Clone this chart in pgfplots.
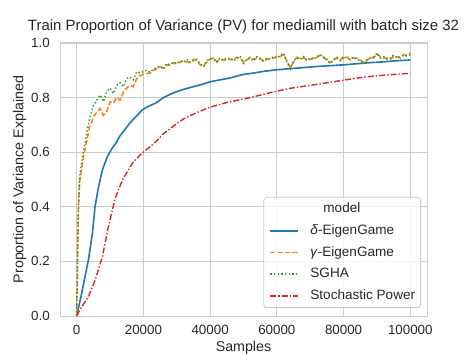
\documentclass[border=0pt]{standalone}
\usepackage{pgfplots}
\pgfplotsset{compat=1.18}
\usepackage{pgfplotstable}
\usepackage{fontspec}
\setmainfont{Liberation Sans}
\definecolor{c1}{HTML}{1F77B4}
\definecolor{c2}{HTML}{FF7F0E}
\definecolor{c3}{HTML}{2CA02C}
\definecolor{c4}{HTML}{D62728}
\definecolor{gridc}{HTML}{CCCCCC}
\definecolor{txt}{HTML}{262626}

\pgfplotstableread{
x y
0 0
1.5 0.083
2.7 0.156
3.5 0.205
4.7 0.30
5.5 0.40
6.5 0.47
7.7 0.535
9.2 0.584
10.5 0.612
11.7 0.632
13 0.66
14.7 0.687
16 0.708
17.7 0.73
19.7 0.755
21.5 0.768
23.7 0.78
26 0.80
28 0.812
30 0.822
32 0.83
35 0.84
38 0.85
40 0.858
43 0.865
46 0.872
50 0.885
53 0.89
56 0.896
60 0.902
64 0.906
68 0.91
72 0.914
76 0.917
80 0.92
84 0.924
88 0.928
92 0.931
96 0.935
100 0.938
}\tabdel

\pgfplotstableread{
x y
0 0
0.25 0.20
0.5 0.38
0.75 0.46
1 0.50
1.5 0.54
2 0.58
2.5 0.61
3 0.64
3.5 0.67
4 0.70
4.5 0.71
5 0.73
6 0.745
7 0.76
8 0.735
9 0.75
10 0.785
11 0.78
12 0.80
13 0.79
14 0.82
15 0.835
16 0.845
17 0.84
18 0.87
19 0.88
20 0.885
21 0.888
22 0.89
23 0.90
24 0.905
25 0.912
26 0.908
27 0.92
28 0.918
29 0.928
30 0.922
31 0.93
32 0.935
33 0.93
34 0.932
35 0.94
36 0.935
37 0.92
38 0.915
39 0.93
40 0.94
41 0.945
42 0.932
43 0.94
44 0.938
45 0.945
46 0.94
47 0.938
48 0.948
49 0.945
50 0.93
51 0.938
52 0.948
53 0.94
54 0.945
55 0.945
56 0.932
57 0.94
58 0.945
59 0.945
60 0.95
61 0.95
62 0.958
63 0.935
64 0.91
65 0.93
66 0.948
67 0.945
68 0.945
69 0.94
70 0.94
71 0.945
72 0.948
73 0.955
74 0.95
75 0.935
76 0.928
77 0.935
78 0.948
79 0.94
80 0.945
81 0.95
82 0.938
83 0.945
84 0.945
85 0.938
86 0.928
87 0.935
88 0.948
89 0.945
90 0.96
91 0.95
92 0.945
93 0.945
94 0.94
95 0.952
96 0.95
97 0.945
98 0.958
99 0.955
100 0.962
}\tabgam

\pgfplotstableread{
x y
0 0
0.25 0.22
0.5 0.40
0.75 0.48
1 0.52
1.5 0.56
2 0.60
2.5 0.63
3 0.67
3.5 0.70
4 0.73
4.5 0.75
5 0.77
6 0.79
7 0.81
8 0.785
9 0.82
10 0.835
11 0.815
12 0.845
13 0.855
14 0.84
15 0.87
16 0.875
17 0.865
18 0.895
19 0.89
20 0.895
21 0.90
22 0.893
23 0.905
24 0.91
25 0.915
26 0.905
27 0.925
28 0.92
29 0.93
30 0.925
31 0.935
32 0.93
33 0.94
34 0.928
35 0.935
36 0.94
37 0.925
38 0.913
39 0.935
40 0.944
41 0.94
42 0.93
43 0.945
44 0.935
45 0.94
46 0.945
47 0.935
48 0.942
49 0.952
50 0.925
51 0.94
52 0.945
53 0.935
54 0.95
55 0.94
56 0.935
57 0.945
58 0.94
59 0.95
60 0.945
61 0.955
62 0.962
63 0.93
64 0.905
65 0.935
66 0.945
67 0.94
68 0.95
69 0.935
70 0.945
71 0.94
72 0.95
73 0.958
74 0.945
75 0.94
76 0.925
77 0.94
78 0.945
79 0.935
80 0.95
81 0.945
82 0.94
83 0.948
84 0.94
85 0.935
86 0.925
87 0.94
88 0.945
89 0.95
90 0.963
91 0.945
92 0.95
93 0.94
94 0.945
95 0.955
96 0.945
97 0.95
98 0.955
99 0.952
100 0.958
}\tabsgha

\pgfplotstableread{
x y
0 0
1.5 0.034
3.5 0.07
5.5 0.13
7.7 0.217
9.5 0.327
10.7 0.388
11.7 0.437
13.7 0.498
16.7 0.56
19.5 0.596
21.5 0.615
23.7 0.638
26 0.668
29.5 0.70
32 0.722
36 0.745
40 0.765
45 0.782
52 0.80
58 0.818
64 0.834
70 0.845
76 0.856
80 0.864
85 0.873
90 0.88
95 0.885
100 0.889
}\tabsp

\begin{document}
\begin{tikzpicture}
\path[use as bounding box] (0,0) rectangle (474bp,355bp);
\begin{axis}[
  at={(60bp,39bp)}, anchor=south west,
  scale only axis, width=367bp, height=273bp,
  xmin=-5000, xmax=105000, ymin=0, ymax=1,
  xtick={0,20000,40000,60000,80000,100000},
  xticklabels={0,20000,40000,60000,80000,100000},
  ytick={0,0.2,0.4,0.6,0.8,1.0},
  yticklabels={0.0,0.2,0.4,0.6,0.8,1.0},
  scaled x ticks=false,
  major tick length=0pt,
  grid=major,
  major grid style={color=gridc, line width=0.9bp},
  axis line style={color=gridc, line width=1bp},
  xticklabel style={inner sep=0pt, anchor=north, yshift=-9bp},
  yticklabel style={inner sep=0pt, anchor=east, xshift=-10bp},
  tick label style={font=\fontsize{13.4}{15}\selectfont, text=txt},
  label style={font=\fontsize{14.3}{17}\selectfont, text=txt},
  xlabel={Samples},
  xlabel style={at={(axis description cs:0.5,0)}, anchor=base, yshift=-35bp, inner sep=0pt},
  ylabel={Proportion of Variance Explained},
  ylabel style={at={(axis description cs:0,0.5)}, anchor=base, yshift=36.7bp, inner sep=0pt},
  title={Train Proportion of Variance (PV) for mediamill with batch size 32},
  title style={at={(axis description cs:0.5,1)}, anchor=base, yshift=7bp, inner sep=0pt, font=\fontsize{15}{18}\selectfont, text=txt},
  legend image code/.code={\draw[#1] (0bp,0bp) -- (27.5bp,0bp);},
  legend cell align=left,
  legend style={at={(0.9837,0.0293)}, anchor=south east,
    font=\fontsize{13.6}{16}\selectfont, text=txt,
    draw=gridc, line width=0.8bp, rounded corners=3bp, fill=white, fill opacity=0.8, text opacity=1,
    inner xsep=5.5bp, inner ysep=4.5bp, row sep=7.2bp, column sep=12bp,
    nodes={inner sep=0pt, text height=11bp, text depth=3.5bp}},
]
\addlegendimage{empty legend}
\addlegendentry{\hspace*{13bp}model}
\addplot[c1, line width=1.6bp] table[x expr=\thisrow{x}*1000, y=y] {\tabdel};
\addlegendentry{\textit{δ}-EigenGame}
\addplot[c2, line width=1.5bp, dash pattern=on 5.2bp off 2.25bp] table[x expr=\thisrow{x}*1000, y=y] {\tabgam};
\addlegendentry{\textit{γ}-EigenGame}
\addplot[c3, line width=1.5bp, dash pattern=on 1.4bp off 2.3bp] table[x expr=\thisrow{x}*1000, y=y] {\tabsgha};
\addlegendentry{SGHA}
\addplot[c4, line width=1.4bp, dash pattern=on 6bp off 2bp on 1.4bp off 2bp] table[x expr=\thisrow{x}*1000, y=y] {\tabsp};
\addlegendentry{Stochastic Power}
\end{axis}
\end{tikzpicture}
\end{document}
